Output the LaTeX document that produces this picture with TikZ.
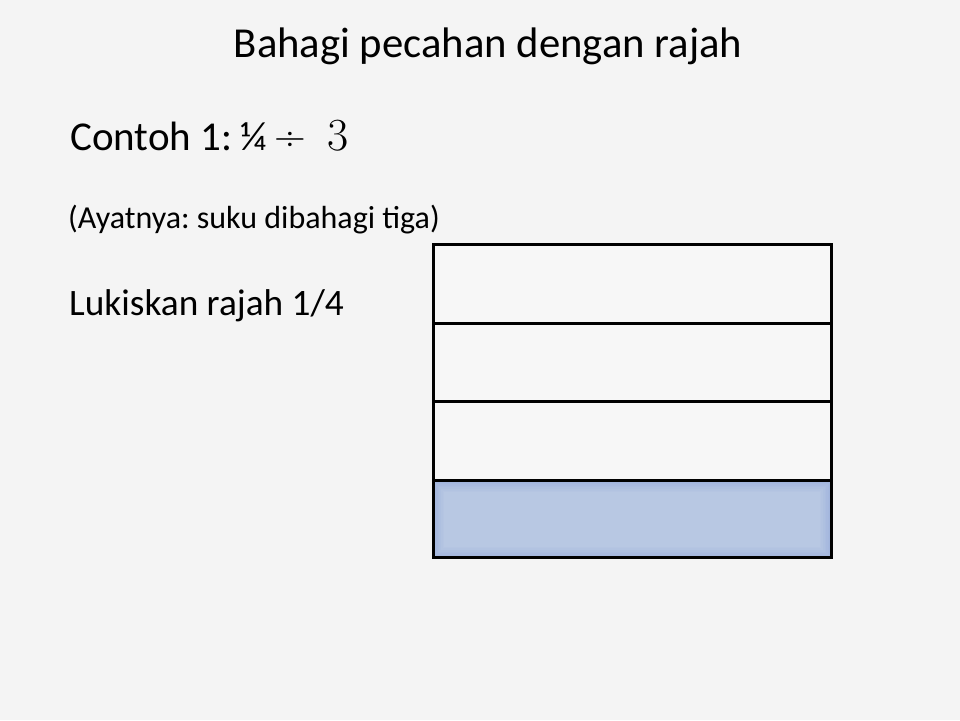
\documentclass[tikz,border=0pt]{standalone}
\usepackage{fontspec}
\setmainfont{Carlito}
\newfontfamily\mathlike{Latin Modern Roman}
\frenchspacing
\definecolor{slidebg}{HTML}{F4F4F4}
\definecolor{stripbg}{HTML}{F7F7F7}
\definecolor{stripin}{HTML}{B8C8E3}
\definecolor{stripout}{HTML}{A2B5DD}
\tikzset{strip/.style={draw=black,line width=3pt,fill=stripbg}}
\begin{document}
\begin{tikzpicture}[x=1pt,y=1pt]
		\fill[slidebg] (0,0) rectangle (960,720);
		\useasboundingbox (0,0) rectangle (960,720);
		\node[anchor=base,inner sep=0] (title) at (488,662) {\fontsize{42.7}{50}\selectfont Bahagi pecahan dengan rajah};
		\node[anchor=base west,inner sep=0] (contoh) at (70,569) {\fontsize{41}{50}\selectfont Contoh 1:};
		\node[anchor=base west,inner sep=0] (suku) at (240,569) {\fontsize{41}{50}\selectfont ¼};
		\node[anchor=base west,inner sep=0] (bahagi) at (274,569) {\fontsize{44}{52}\mathlike ÷};
		\node[anchor=base west,inner sep=0] (tiga) at (327,569) {\fontsize{46}{54}\mathlike 3};
		\node[anchor=base west,inner sep=0] (ayat) at (68,491) {\fontsize{32}{38}\selectfont (Ayatnya: suku dibahagi tiga)};
		\node[anchor=base west,inner sep=0] (lukis) at (69,404) {\fontsize{37.3}{44}\selectfont Lukiskan rajah 1/4};
		% jalur 1/4
		\foreach \ya/\yb in {475/396,396/318,318/239}
			\draw[strip] (433,\ya) rectangle (831,\yb);
		\foreach \k [evaluate=\k as \p using int(\k*100/7)] in {0,...,7}
			\fill[stripin!\p!stripout] ({433+1.6*\k},{239-1.6*\k}) rectangle ({831-1.6*\k},{162+1.6*\k});
		\draw[line width=3pt] (433,239) rectangle (831,162);
\end{tikzpicture}
\end{document}
